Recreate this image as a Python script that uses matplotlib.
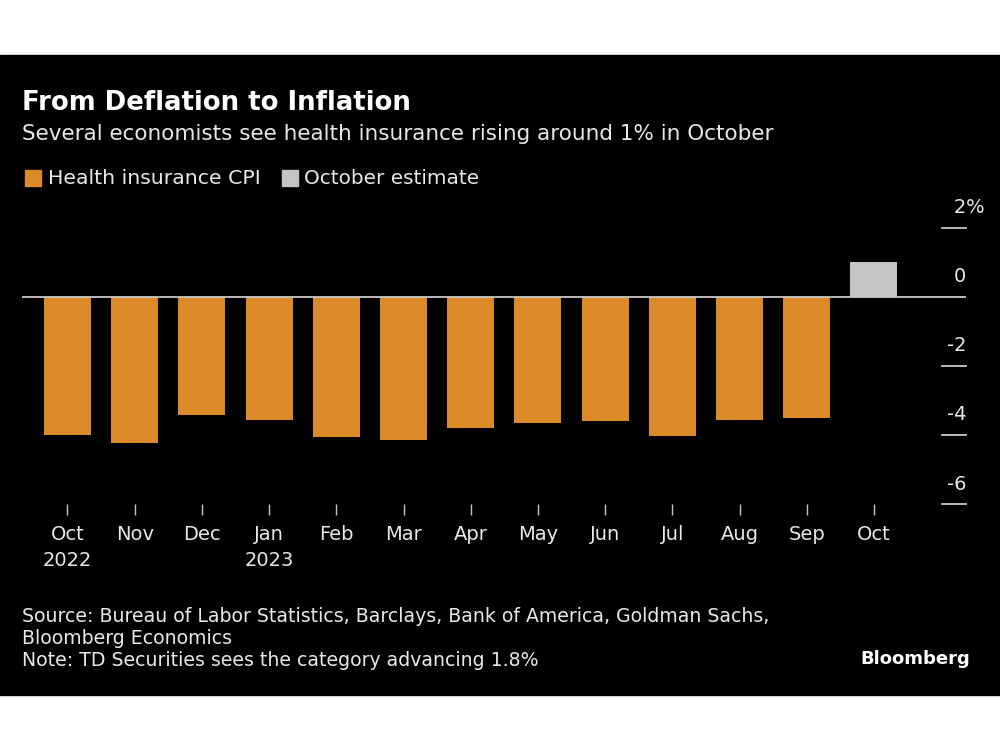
import matplotlib
matplotlib.use("Agg")
import matplotlib.pyplot as plt

months = ["Oct", "Nov", "Dec", "Jan", "Feb", "Mar", "Apr", "May", "Jun", "Jul", "Aug", "Sep", "Oct"]
years = ["2022", "", "", "2023", "", "", "", "", "", "", "", "", ""]
cpi_values = [-4.0, -4.24, -3.42, -3.56, -4.07, -4.14, -3.80, -3.66, -3.59, -4.03, -3.57, -3.50]
estimate_values = [1.02]
y_ticks = [2, 0, -2, -4, -6]

ORANGE = "#DA8B27"
GRAY = "#C4C4C4"
TXT = "#E8E8E8"

plt.rcParams["font.family"] = ["DejaVu Sans"]
fig = plt.figure(figsize=(10, 7.5), dpi=100)
fig.patch.set_facecolor("white")
# black panel
fig.patches.append(plt.Rectangle((0, 1 - 695 / 750), 1, (695 - 55) / 750,
                                 transform=fig.transFigure, color="black", zorder=-10))

W, H = 1000, 750
def fx(px): return px / W
def fy(py): return 1 - py / H

ax = fig.add_axes([fx(22), fy(504), fx(966) - fx(22), fy(210) - fy(504)])
ax.set_facecolor("none")
ax.set_zorder(5)
n_cpi = len(cpi_values)
xs = list(range(len(months)))
ax.bar(xs[:n_cpi], cpi_values, width=0.70, color=ORANGE, zorder=2)
ax.bar(xs[n_cpi:], estimate_values, width=0.70, color=GRAY, zorder=2)
ax.axhline(0, color="#C8C8C8", lw=1.3, zorder=3)
ax.set_xlim(-0.677, 13.37)
ax.set_ylim(-6.0, 2.52)
for s in ax.spines.values():
    s.set_visible(False)
ax.set_yticks([])
ax.set_xticks(xs)
ax.set_xticklabels([])
ax.tick_params(axis="x", direction="out", length=8, width=1, color="#C8C8C8", pad=0)

# x labels
for i, (m, yv) in enumerate(zip(months, years)):
    xp = ax.transData.transform((i, 0))[0] / (fig.dpi * 10)
    fig.text(xp, fy(534), m, ha="center", va="center", color=TXT, fontsize=14)
    if yv:
        fig.text(xp, fy(560), yv, ha="center", va="center", color=TXT, fontsize=14)

# y labels on right
for t in y_ticks:
    yline = ax.transData.transform((0, t))[1] / (fig.dpi * 7.5)
    if t != 0:
        ax.plot([13.01, 13.37], [t, t], color="#C8C8C8", lw=1.3, clip_on=False, zorder=3)
    lab = str(t) if t >= 0 else "-" + str(abs(t))
    fig.text(fx(966), yline + 20 / H, lab, ha="right", va="center", color=TXT, fontsize=14)
    if t == max(y_ticks):
        fig.text(fx(966), yline + 20 / H, "%", ha="left", va="center", color=TXT, fontsize=14)

# titles
fig.text(fx(22), fy(103), "From Deflation to Inflation", ha="left", va="center",
         color="white", fontsize=18.7, fontweight="bold")
fig.text(fx(22), fy(134), "Several economists see health insurance rising around 1% in October",
         ha="left", va="center", color=TXT, fontsize=15.5)

# legend
fig.patches.append(plt.Rectangle((fx(25), fy(186)), fx(16), 16 / H, transform=fig.transFigure,
                                 color=ORANGE))
fig.text(fx(48), fy(178), "Health insurance CPI", ha="left", va="center", color=TXT, fontsize=14.7)
fig.patches.append(plt.Rectangle((fx(282), fy(186)), fx(16), 16 / H, transform=fig.transFigure,
                                 color=GRAY))
fig.text(fx(304), fy(178), "October estimate", ha="left", va="center", color=TXT, fontsize=14.4)

# footer
fig.text(fx(22), fy(616), "Source: Bureau of Labor Statistics, Barclays, Bank of America, Goldman Sachs,",
         ha="left", va="center", color=TXT, fontsize=13.6)
fig.text(fx(22), fy(639), "Bloomberg Economics", ha="left", va="center", color=TXT, fontsize=13.6)
fig.text(fx(22), fy(661), "Note: TD Securities sees the category advancing 1.8%",
         ha="left", va="center", color=TXT, fontsize=13.6)
fig.text(fx(970), fy(659), "Bloomberg", ha="right", va="center", color="white",
         fontsize=13, fontweight="bold")

fig.savefig("out.png", dpi=100, facecolor=fig.get_facecolor())
